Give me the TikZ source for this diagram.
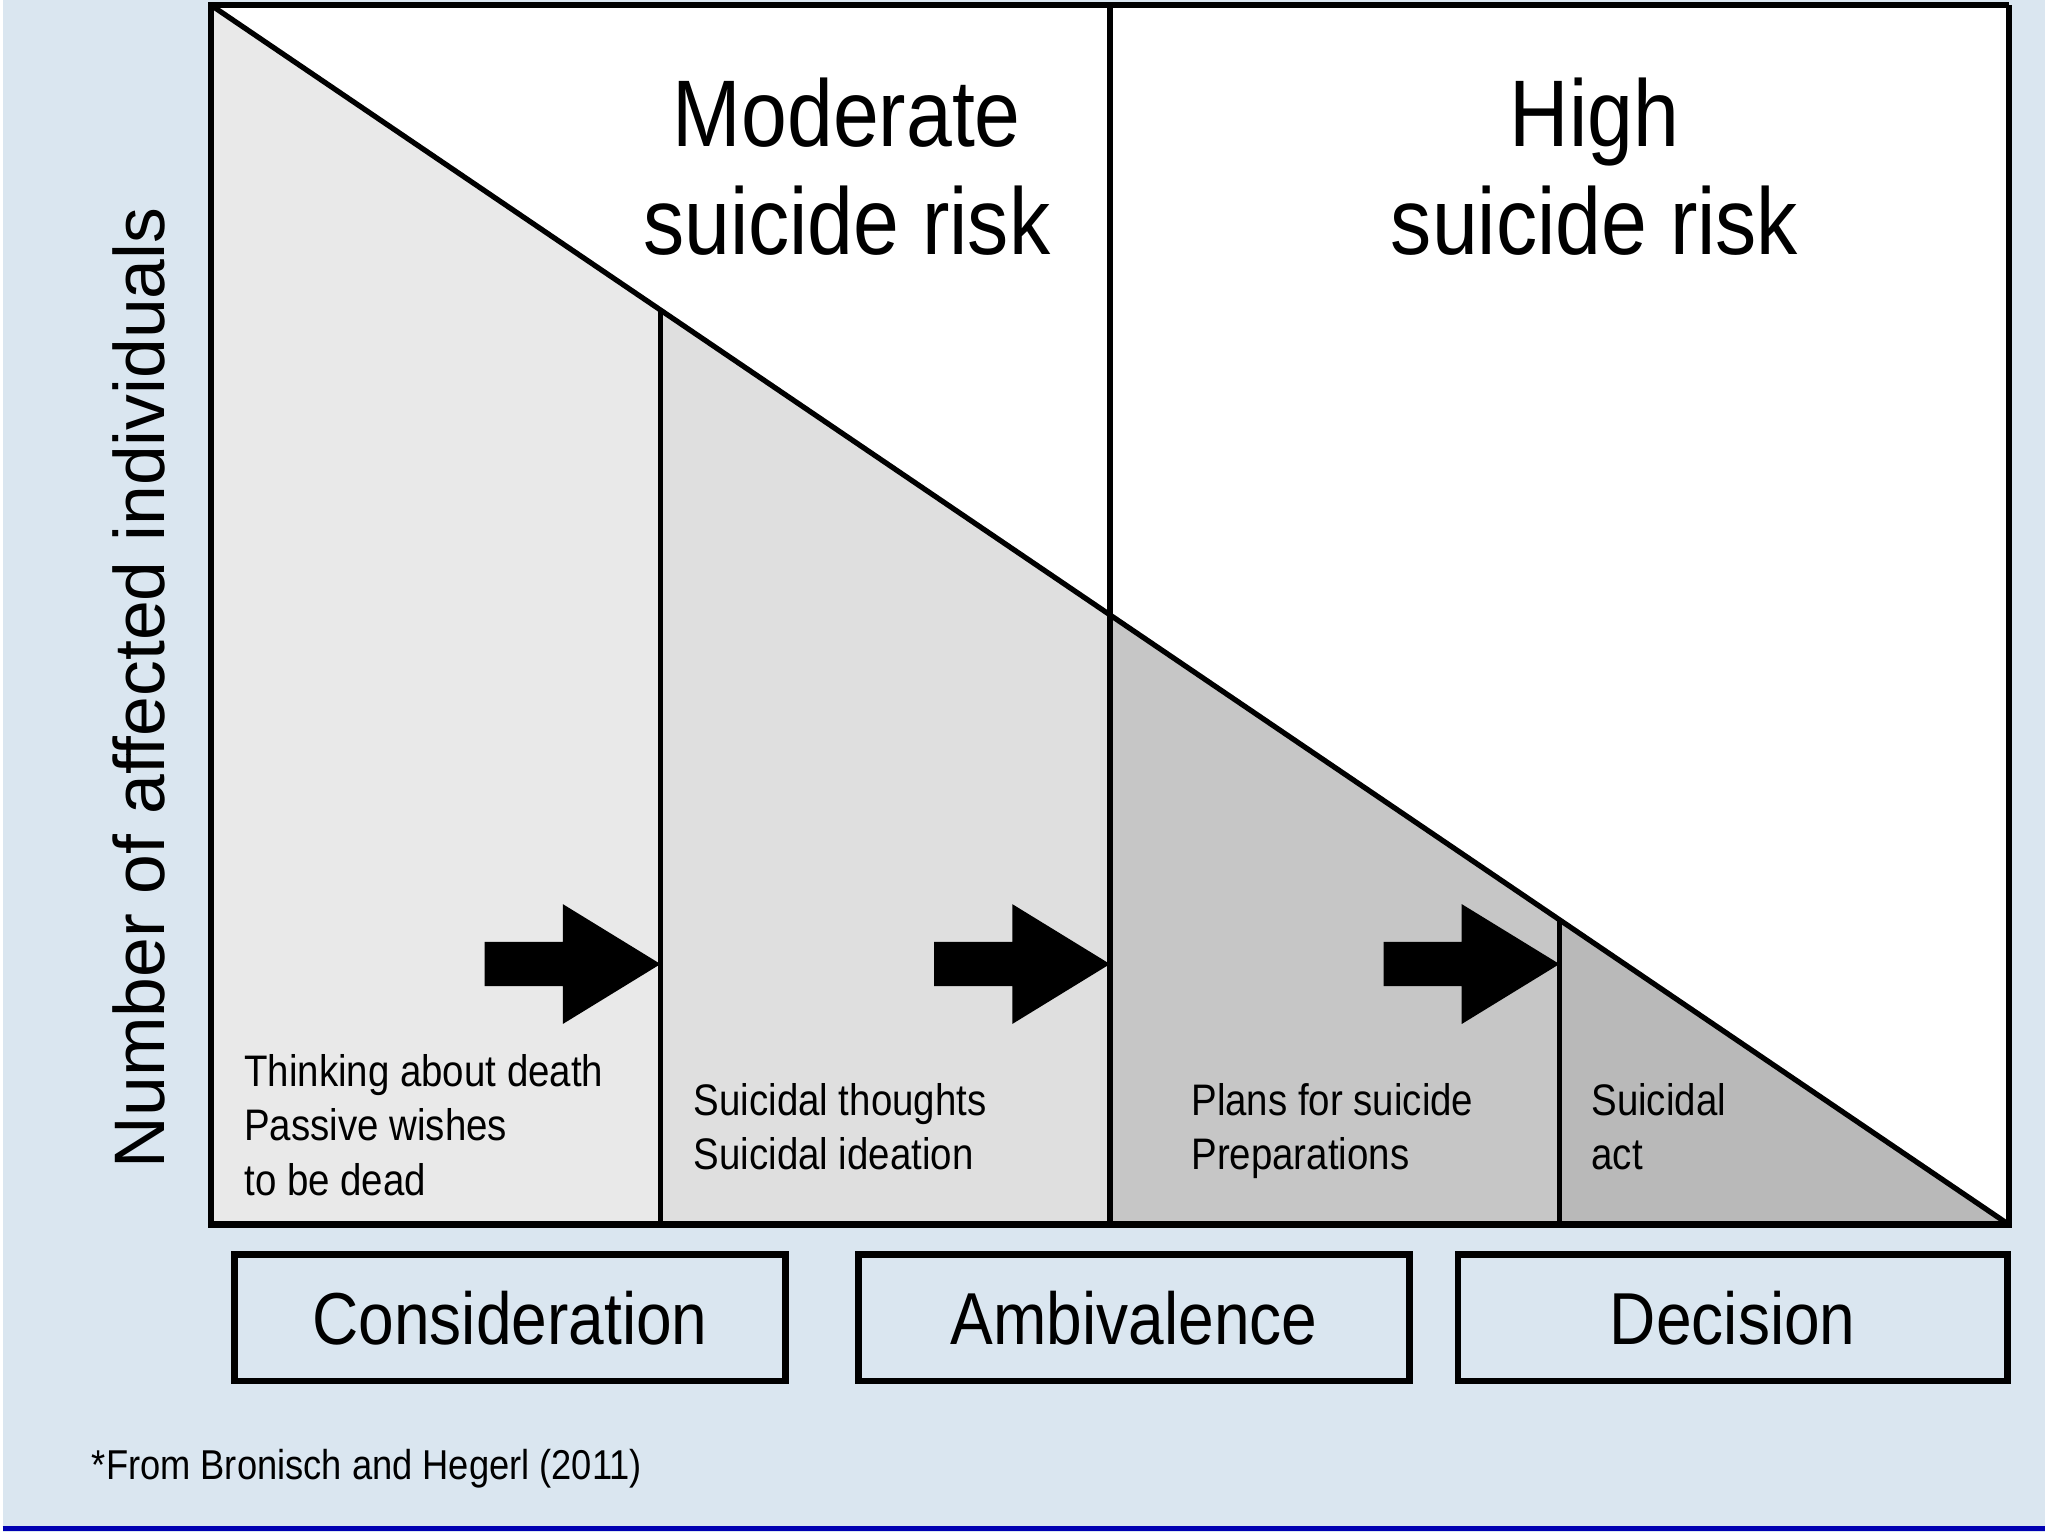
\documentclass[tikz,border=0pt]{standalone}
\usepackage{fontspec}
\setmainfont{Liberation Sans}[FakeStretch=0.87]
\newfontfamily\widefont{Liberation Sans}
\begin{document}
\begin{tikzpicture}[x=0.01306cm,y=-0.01306cm,
  blk/.style={fill=black},
  stage/.style={draw=black,line width=1.8pt,fill=none},
  small/.style={font=\fontsize{12.6}{15.5}\selectfont,align=left,anchor=north west,inner sep=0pt},
  big/.style={font=\fontsize{27}{31}\selectfont,align=center,inner sep=0pt},
  boxlab/.style={font=\fontsize{21}{24}\selectfont,inner sep=0pt}]
\definecolor{bg}{HTML}{DAE6F0}
\fill[bg] (0,0) rectangle (1568,1176);
\draw[blue!70!black,line width=1.5pt] (0,1173) -- (1568,1173);
% regions
\fill[white] (160,4) rectangle (1540,940);
\fill[gray!17] (160,4) -- (505,238) -- (505,940) -- (160,940) -- cycle;
\fill[gray!25] (505,238) -- (850,472) -- (850,940) -- (505,940) -- cycle;
\fill[gray!45] (850,472) -- (1195,706) -- (1195,940) -- (850,940) -- cycle;
\fill[gray!55] (1195,706) -- (1540,940) -- (1195,940) -- cycle;
\coordinate (tl) at (160,4); \coordinate (tr) at (1540,4);
\coordinate (bl) at (160,940); \coordinate (br) at (1540,940);
\draw[line width=1.8pt] (tr) -- (tl) -- (bl) -- (br) -- (tr);
\draw[line width=1.5pt] (tl) -- (br);
\draw[line width=1.5pt] (505,238) -- (505,940);
\draw[line width=1.5pt] (850,4) -- (850,940);
\draw[line width=1.5pt] (1195,706) -- (1195,940);
% arrows
\foreach \x in {370,715,1060}{
  \fill[blk] (\x,723) -- (\x+60,723) -- (\x+60,694) -- (\x+135,740) -- (\x+60,786) -- (\x+60,757) -- (\x,757) -- cycle;
}
\node[big] (mod) at (648,128) {Moderate\\suicide risk};
\node[big] (high) at (1222,128) {High\\suicide risk};
\node[small] (t1) at (185,809) {Thinking about death\\Passive wishes\\to be dead};
\node[small] (t2) at (530,831) {Suicidal thoughts\\Suicidal ideation};
\node[small] (t3) at (912,831) {Plans for suicide\\Preparations};
\node[small] (t4) at (1219,831) {Suicidal\\act};
\draw[stage] (178,963) rectangle (601,1060);
\draw[stage] (657,963) rectangle (1080,1060);
\draw[stage] (1117,963) rectangle (1539,1060);
\node[boxlab] (b1) at (389.5,1012) {Consideration};
\node[boxlab] (b2) at (868.5,1012) {Ambivalence};
\node[boxlab] (b3) at (1328,1012) {Decision};
\node[rotate=90,font=\widefont\fontsize{20.4}{22}\selectfont,inner sep=0pt] (ylab) at (105,528) {Number of affected individuals};
\node[anchor=west,font=\fontsize{11.9}{13}\selectfont,inner sep=0pt] (src) at (68,1127) {*From Bronisch and Hegerl (2011)};
\end{tikzpicture}
\end{document}
